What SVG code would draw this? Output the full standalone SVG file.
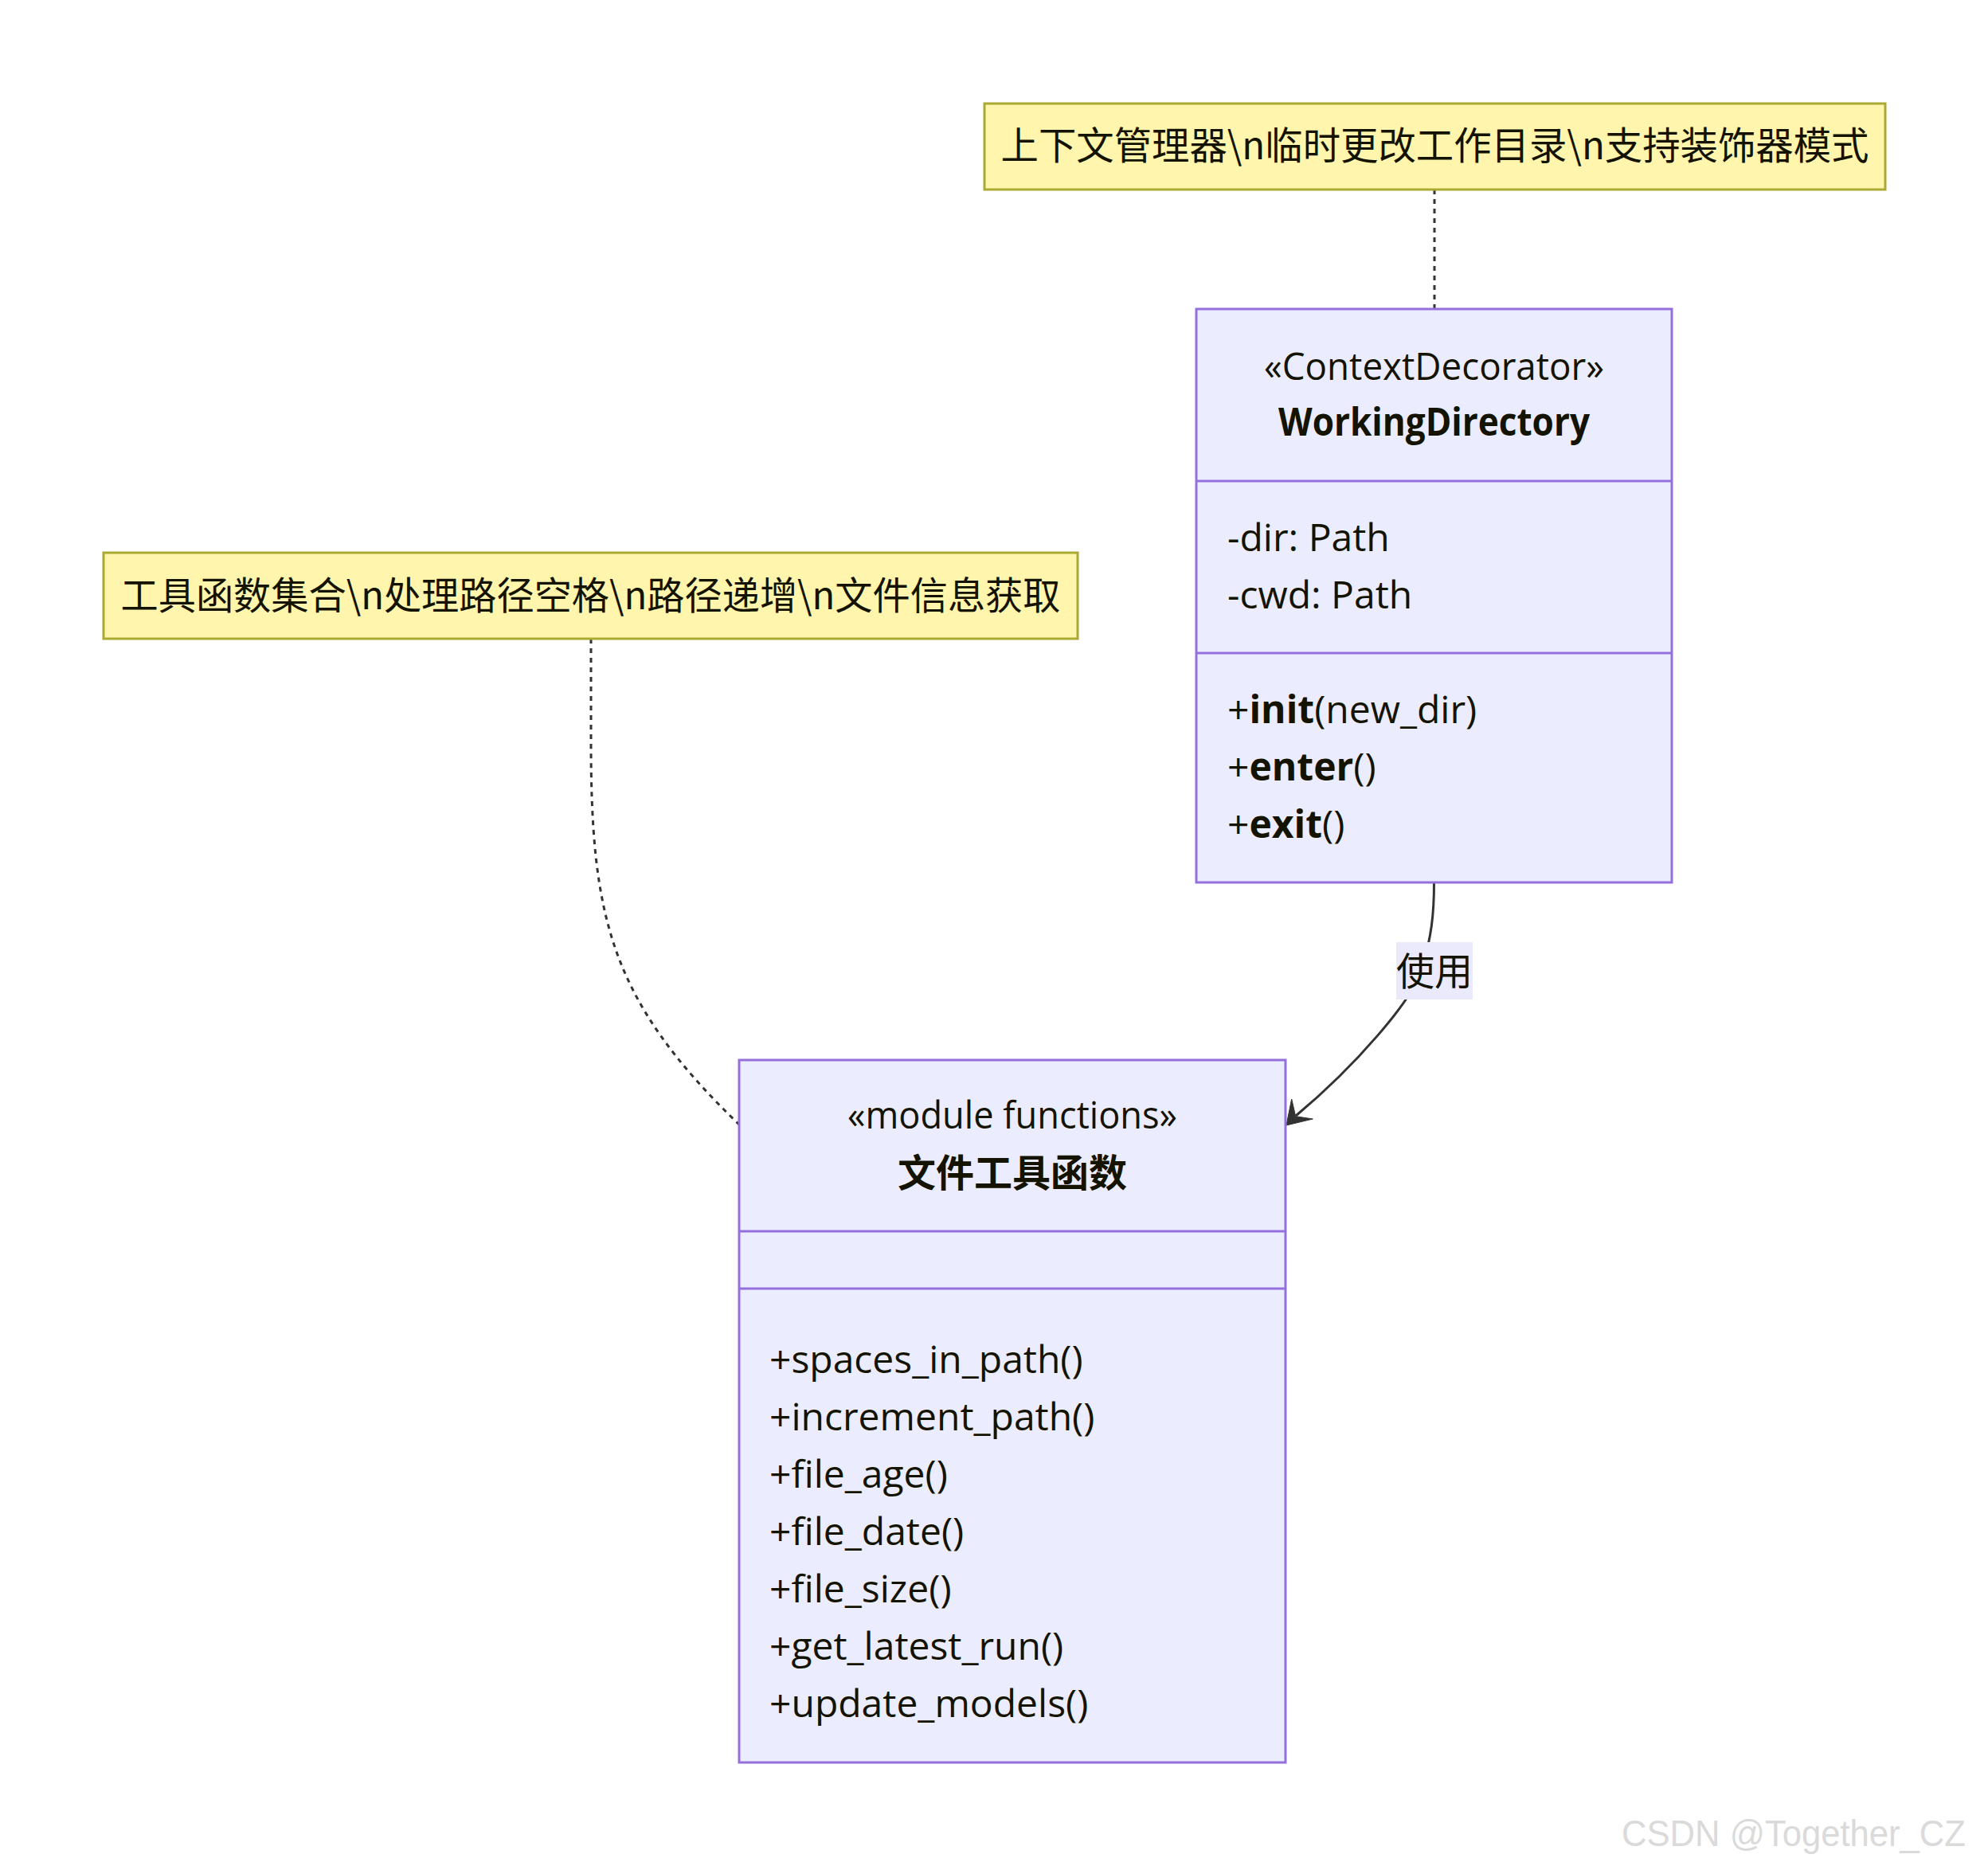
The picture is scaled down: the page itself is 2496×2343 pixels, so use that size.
<svg xmlns="http://www.w3.org/2000/svg" width="2496" height="2343" viewBox="0 0 2496 2343">
<style>
.note{fill:#fff5ad;stroke:#aaaa33;stroke-width:3}
.cls{fill:#ececff;stroke:#9370db;stroke-width:3}
.div{stroke:#9370db;stroke-width:3}
.t{font-family:"Open Sans","Noto Sans CJK SC",sans-serif;font-size:48px;fill:#131300}
.cjk{font-family:"Noto Sans CJK SC","Noto Sans",sans-serif;font-size:48px;fill:#131300}
.b{font-weight:bold}
.mid{text-anchor:middle}
.dash{fill:none;stroke:#333;stroke-width:3;stroke-dasharray:6 6}
.solid{fill:none;stroke:#333;stroke-width:3}
</style>
<rect width="2496" height="2343" fill="#ffffff"/>
<g id="connectors">
  <path class="dash" d="M1801,238 L1801,388"/>
  <path class="dash" d="M742,802 L742,930 C742,1150 765,1255 928,1412"/>
  <path class="solid" d="M1800.5,1108 C1800.5,1150 1797,1175 1786,1215 S1700,1340 1627,1401"/>
  <path d="M1615,1413 L1621.7,1380 L1626.7,1401.7 L1648.3,1405 Z" fill="#333" stroke="#333" stroke-width="1"/>
  <g id="label-use">
    <rect x="1753" y="1183" width="96" height="72" fill="#eaeafc"/>
    <text class="cjk mid" x="1801" y="1237">使用</text>
  </g>
</g>
<g id="note-context">
  <rect class="note" x="1236" y="130" width="1131" height="108"/>
  <text class="cjk mid" x="1801.5" y="200" textLength="1090" lengthAdjust="spacingAndGlyphs">上下文管理器\n临时更改工作目录\n支持装饰器模式</text>
</g>
<g id="note-utils">
  <rect class="note" x="130" y="694" width="1223" height="108"/>
  <text class="cjk mid" x="741.5" y="765" textLength="1180" lengthAdjust="spacingAndGlyphs">工具函数集合\n处理路径空格\n路径递增\n文件信息获取</text>
</g>
<g id="WorkingDirectory">
  <rect class="cls" x="1502" y="388" width="597" height="720"/>
  <line class="div" x1="1502" y1="604" x2="2099" y2="604"/>
  <line class="div" x1="1502" y1="820" x2="2099" y2="820"/>
  <text class="t mid" x="1800.5" y="477" textLength="427" lengthAdjust="spacingAndGlyphs">«ContextDecorator»</text>
  <text class="t mid b" x="1800.5" y="547" textLength="391" lengthAdjust="spacingAndGlyphs">WorkingDirectory</text>
  <text class="t" x="1541" y="692">-dir: Path</text>
  <text class="t" x="1541" y="764">-cwd: Path</text>
  <text class="t" x="1541" y="908">+<tspan class="b">init</tspan>(new_dir)</text>
  <text class="t" x="1541" y="980">+<tspan class="b">enter</tspan>()</text>
  <text class="t" x="1541" y="1052">+<tspan class="b">exit</tspan>()</text>
</g>
<g id="FileUtils">
  <rect class="cls" x="928" y="1331" width="686" height="882"/>
  <line class="div" x1="928" y1="1546" x2="1614" y2="1546"/>
  <line class="div" x1="928" y1="1618" x2="1614" y2="1618"/>
  <text class="t mid" x="1271" y="1417" textLength="414" lengthAdjust="spacingAndGlyphs">«module functions»</text>
  <text class="cjk mid b" x="1271" y="1490">文件工具函数</text>
  <text class="t" x="966" y="1724">+spaces_in_path()</text>
  <text class="t" x="966" y="1796">+increment_path()</text>
  <text class="t" x="966" y="1868">+file_age()</text>
  <text class="t" x="966" y="1940">+file_date()</text>
  <text class="t" x="966" y="2012">+file_size()</text>
  <text class="t" x="966" y="2084">+get_latest_run()</text>
  <text class="t" x="966" y="2156">+update_models()</text>
</g>
<text x="2036" y="2318" font-family="Liberation Sans, Arial, sans-serif" font-size="46" fill="#dadada" textLength="432" lengthAdjust="spacingAndGlyphs">CSDN @Together_CZ</text>
</svg>
